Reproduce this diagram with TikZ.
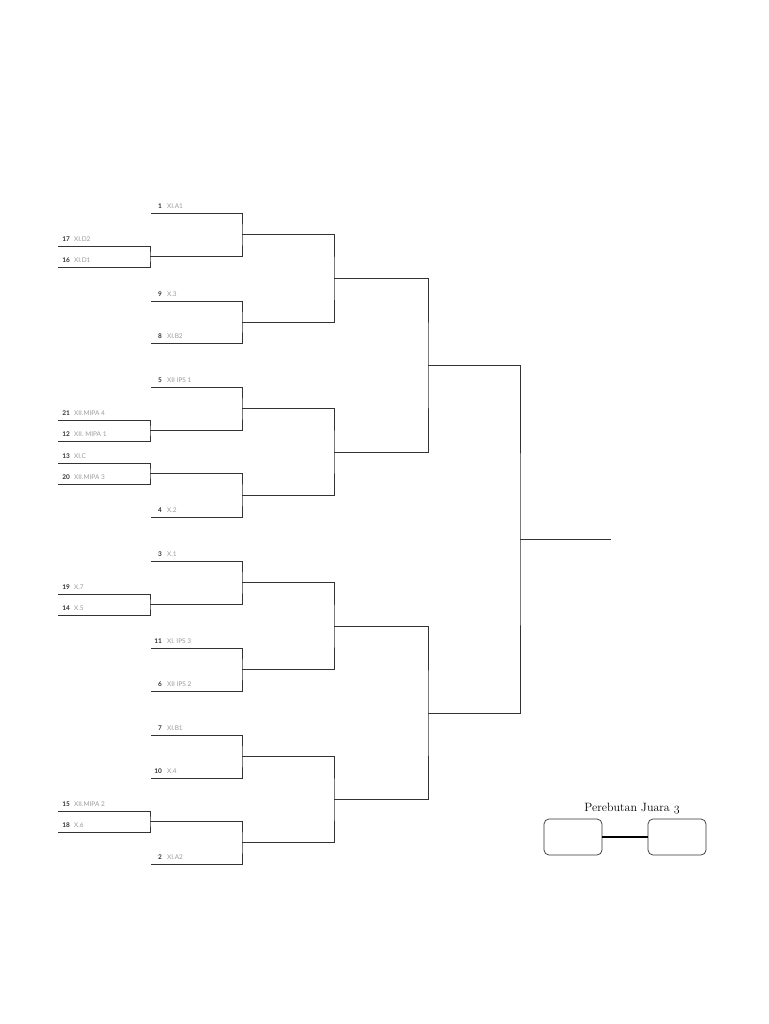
\documentclass[tikz,border=0pt]{standalone}
\usepackage{fontspec}
\setsansfont{Lato}
\usetikzlibrary{positioning}
\definecolor{garis}{HTML}{333333}
\definecolor{abu}{HTML}{9A9A9A}
\tikzstyle{bracket} = [draw=garis, line width=0.8pt]
\tikzstyle{team} = [inner sep=0pt, text height=4.6pt, text depth=0pt, font=\sffamily\fontsize{6.5}{7}\selectfont, text=abu]
\tikzstyle{seed} = [team, font=\sffamily\bfseries\fontsize{6.5}{7}\selectfont, text=garis]
\tikzstyle{juara} = [rectangle, rounded corners=5pt, minimum width=58pt, minimum height=36pt, draw=garis, line width=0.7pt]
\tikzstyle{link} = [draw=black, line width=2.5pt]

\begin{document}
\begin{tikzpicture}[x=1pt, y=-1pt]
   \useasboundingbox (0,0) rectangle (768,1024);
   % babak penyisihan
   \coordinate (p17) at (58,246); \coordinate (p16) at (58,267); \coordinate (w1) at (150,256.5);
   \coordinate (p21) at (58,420); \coordinate (p12) at (58,441); \coordinate (w2) at (150,430.5);
   \coordinate (p13) at (58,463); \coordinate (p20) at (58,484); \coordinate (w3) at (150,473.5);
   \coordinate (p19) at (58,594); \coordinate (p14) at (58,615); \coordinate (w4) at (150,604.5);
   \coordinate (p15) at (58,811); \coordinate (p18) at (58,832); \coordinate (w5) at (150,821.5);
   % babak 16 besar
   \coordinate (p1) at (151,213); \coordinate (wa) at (242,234.75);
   \coordinate (p9) at (151,301); \coordinate (p8) at (151,343); \coordinate (wb) at (242,322);
   \coordinate (p5) at (151,387); \coordinate (wc) at (242,408.75);
   \coordinate (p4) at (151,517); \coordinate (wd) at (242,495.25);
   \coordinate (p3) at (151,561); \coordinate (we) at (242,582.75);
   \coordinate (p11) at (151,648); \coordinate (p6) at (151,691); \coordinate (wf) at (242,669.5);
   \coordinate (p7) at (151,735); \coordinate (p10) at (151,778); \coordinate (wg) at (242,756.5);
   \coordinate (p2) at (151,864); \coordinate (wh) at (242,842.75);
   % perempat final, semifinal, final
   \coordinate (wab) at (334,278.4); \coordinate (wcd) at (334,452);
   \coordinate (wef) at (334,626.1); \coordinate (wgh) at (334,799.6);
   \coordinate (wad) at (428,365.2); \coordinate (weh) at (428,712.9);
   \coordinate (wah) at (520,539); \coordinate (juara) at (611,539);

   \draw [bracket] (p17) -| (w1) |- (p16);
   \draw [bracket] (p21) -| (w2) |- (p12);
   \draw [bracket] (p13) -| (w3) |- (p20);
   \draw [bracket] (p19) -| (w4) |- (p14);
   \draw [bracket] (p15) -| (w5) |- (p18);

   \draw [bracket] (p1) -| (wa) |- (w1);
   \draw [bracket] (p9) -| (wb) |- (p8);
   \draw [bracket] (p5) -| (wc) |- (w2);
   \draw [bracket] (w3) -| (wd) |- (p4);
   \draw [bracket] (p3) -| (we) |- (w4);
   \draw [bracket] (p11) -| (wf) |- (p6);
   \draw [bracket] (p7) -| (wg) |- (p10);
   \draw [bracket] (w5) -| (wh) |- (p2);

   \draw [bracket] (wa) -| (wab) |- (wb);
   \draw [bracket] (wc) -| (wcd) |- (wd);
   \draw [bracket] (we) -| (wef) |- (wf);
   \draw [bracket] (wg) -| (wgh) |- (wh);
   \draw [bracket] (wab) -| (wad) |- (wcd);
   \draw [bracket] (wef) -| (weh) |- (wgh);
   \draw [bracket] (wad) -| (wah) |- (weh);
   \draw [bracket] (wah) -- (juara);

   % nama kelas
   \node [team, above right=4.5pt and 16pt of p17] (t17) {XI.D2};  \node [seed, left=4pt of t17] (n17) {17};
   \node [team, above right=4.5pt and 16pt of p16] (t16) {XI.D1};  \node [seed, left=4pt of t16] (n16) {16};
   \node [team, above right=4.5pt and 16pt of p21] (t21) {XII.MIPA 4};  \node [seed, left=4pt of t21] (n21) {21};
   \node [team, above right=4.5pt and 16pt of p12] (t12) {XII. MIPA 1};  \node [seed, left=4pt of t12] (n12) {12};
   \node [team, above right=4.5pt and 16pt of p13] (t13) {XI.C};  \node [seed, left=4pt of t13] (n13) {13};
   \node [team, above right=4.5pt and 16pt of p20] (t20) {XII.MIPA 3};  \node [seed, left=4pt of t20] (n20) {20};
   \node [team, above right=4.5pt and 16pt of p19] (t19) {X.7};  \node [seed, left=4pt of t19] (n19) {19};
   \node [team, above right=4.5pt and 16pt of p14] (t14) {X.5};  \node [seed, left=4pt of t14] (n14) {14};
   \node [team, above right=4.5pt and 16pt of p15] (t15) {XII.MIPA 2};  \node [seed, left=4pt of t15] (n15) {15};
   \node [team, above right=4.5pt and 16pt of p18] (t18) {X.6};  \node [seed, left=4pt of t18] (n18) {18};

   \node [team, above right=4.5pt and 16pt of p1] (t1) {XI.A1};  \node [seed, left=5pt of t1] (n1) {1};
   \node [team, above right=4.5pt and 16pt of p9] (t9) {X.3};  \node [seed, left=5pt of t9] (n9) {9};
   \node [team, above right=4.5pt and 16pt of p8] (t8) {XI.B2};  \node [seed, left=5pt of t8] (n8) {8};
   \node [team, above right=4.5pt and 16pt of p5] (t5) {XII IPS 1};  \node [seed, left=5pt of t5] (n5) {5};
   \node [team, above right=4.5pt and 16pt of p4] (t4) {X.2};  \node [seed, left=5pt of t4] (n4) {4};
   \node [team, above right=4.5pt and 16pt of p3] (t3) {X.1};  \node [seed, left=5pt of t3] (n3) {3};
   \node [team, above right=4.5pt and 16pt of p11] (t11) {XI. IPS 3};  \node [seed, left=5pt of t11] (n11) {11};
   \node [team, above right=4.5pt and 16pt of p6] (t6) {XII IPS 2};  \node [seed, left=5pt of t6] (n6) {6};
   \node [team, above right=4.5pt and 16pt of p7] (t7) {XI.B1};  \node [seed, left=5pt of t7] (n7) {7};
   \node [team, above right=4.5pt and 16pt of p10] (t10) {X.4};  \node [seed, left=5pt of t10] (n10) {10};
   \node [team, above right=4.5pt and 16pt of p2] (t2) {XI.A2};  \node [seed, left=5pt of t2] (n2) {2};

   % perebutan juara 3
   \node (k1) [juara] at (573,837) {};
   \node (k2) [juara] at (677,837) {};
   \draw [link] (k1) -- (k2);
   \node (judul) at (632,808) {\fontsize{12}{14}\selectfont Perebutan Juara {\usefont{OML}{cmm}{m}{it}3}};
\end{tikzpicture}
\end{document}
